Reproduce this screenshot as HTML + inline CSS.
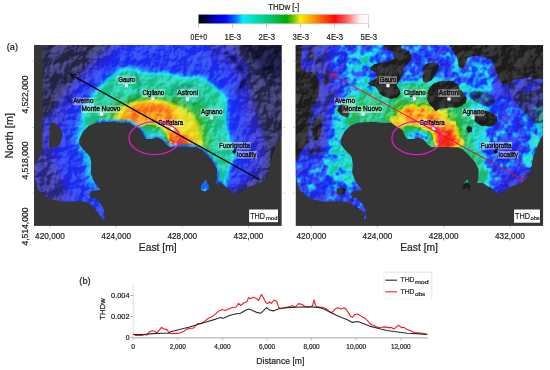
<!DOCTYPE html><html><head><meta charset="utf-8"><title>THDw maps</title>
<style>html,body{margin:0;padding:0;background:#fff}svg{display:block}text{font-family:"Liberation Sans", Arial, sans-serif;stroke:#222;stroke-width:.2px}</style></head><body>
<svg width="550" height="370" viewBox="0 0 550 370">
<defs>
<linearGradient id="cb" x1="0" x2="1" y1="0" y2="0"><stop offset="0" stop-color="#000"/><stop offset="0.05" stop-color="#000058"/><stop offset="0.10" stop-color="#0000c0"/><stop offset="0.16" stop-color="#0008ff"/><stop offset="0.215" stop-color="#0068ff"/><stop offset="0.262" stop-color="#00f0ff"/><stop offset="0.34" stop-color="#00dcb0"/><stop offset="0.45" stop-color="#00c050"/><stop offset="0.52" stop-color="#00a800"/><stop offset="0.56" stop-color="#70c800"/><stop offset="0.60" stop-color="#f8f000"/><stop offset="0.68" stop-color="#ff9000"/><stop offset="0.80" stop-color="#ff0808"/><stop offset="0.86" stop-color="#ff5050"/><stop offset="0.95" stop-color="#fff0f0"/><stop offset="1" stop-color="#fff"/></linearGradient>
<filter id="f1" x="0" y="0" width="320" height="260" filterUnits="userSpaceOnUse" color-interpolation-filters="sRGB"><feGaussianBlur stdDeviation="3.8" result="b"/><feComponentTransfer in="b"><feFuncR type="table" tableValues="0.078 0.132 0.184 0.233 0.239 0.232 0.215 0.198 0.174 0.139 0.125 0.129 0.149 0.159 0.164 0.168 0.173 0.187 0.202 0.217 0.251 0.290 0.412 0.659 0.861 0.954 0.975 0.996 0.995 0.990 0.984 0.978 0.973 0.979 0.986 0.993 1.000 1.000 1.000 1.000 1.000"/><feFuncG type="table" tableValues="0.078 0.132 0.184 0.233 0.239 0.234 0.229 0.223 0.268 0.390 0.627 0.873 0.843 0.826 0.817 0.809 0.800 0.795 0.790 0.785 0.774 0.761 0.775 0.831 0.887 0.846 0.739 0.633 0.536 0.441 0.346 0.252 0.157 0.275 0.392 0.510 0.627 0.721 0.814 0.907 1.000"/><feFuncB type="table" tableValues="0.220 0.298 0.369 0.427 0.612 0.796 0.855 0.914 0.960 0.989 0.988 0.941 0.784 0.701 0.666 0.631 0.596 0.547 0.498 0.449 0.376 0.298 0.233 0.188 0.166 0.150 0.139 0.128 0.120 0.114 0.107 0.101 0.094 0.227 0.361 0.494 0.627 0.721 0.814 0.907 1.000"/></feComponentTransfer></filter>
<filter id="f2" x="0" y="0" width="320" height="260" filterUnits="userSpaceOnUse" color-interpolation-filters="sRGB"><feGaussianBlur stdDeviation="3.2" result="b"/><feTurbulence type="fractalNoise" baseFrequency="0.13" numOctaves="2" seed="7" result="t"/><feColorMatrix in="t" type="matrix" values="1 0 0 0 0  1 0 0 0 0  1 0 0 0 0  0 0 0 0 1" result="tg"/><feComposite in="b" in2="tg" operator="arithmetic" k1="0" k2="1" k3="0.22" k4="-0.11" result="n"/><feComponentTransfer in="n"><feFuncR type="table" tableValues="0.078 0.132 0.184 0.233 0.239 0.232 0.215 0.198 0.174 0.139 0.125 0.129 0.149 0.159 0.164 0.168 0.173 0.187 0.202 0.217 0.251 0.290 0.412 0.659 0.861 0.954 0.975 0.996 0.995 0.990 0.984 0.978 0.973 0.979 0.986 0.993 1.000 1.000 1.000 1.000 1.000"/><feFuncG type="table" tableValues="0.078 0.132 0.184 0.233 0.239 0.234 0.229 0.223 0.268 0.390 0.627 0.873 0.843 0.826 0.817 0.809 0.800 0.795 0.790 0.785 0.774 0.761 0.775 0.831 0.887 0.846 0.739 0.633 0.536 0.441 0.346 0.252 0.157 0.275 0.392 0.510 0.627 0.721 0.814 0.907 1.000"/><feFuncB type="table" tableValues="0.220 0.298 0.369 0.427 0.612 0.796 0.855 0.914 0.960 0.989 0.988 0.941 0.784 0.701 0.666 0.631 0.596 0.547 0.498 0.449 0.376 0.298 0.233 0.188 0.166 0.150 0.139 0.128 0.120 0.114 0.107 0.101 0.094 0.227 0.361 0.494 0.627 0.721 0.814 0.907 1.000"/></feComponentTransfer></filter>
<filter id="hs" x="0" y="0" width="320" height="260" filterUnits="userSpaceOnUse" color-interpolation-filters="sRGB"><feTurbulence type="fractalNoise" baseFrequency="0.065" numOctaves="4" seed="3" result="t"/><feColorMatrix in="t" type="matrix" values="0 0 0 0 0  0 0 0 0 0  0 0 0 0 0  1 0 0 0 0" result="h"/><feDiffuseLighting in="h" surfaceScale="11" diffuseConstant="1" lighting-color="#fff" result="l"><feDistantLight azimuth="225" elevation="30"/></feDiffuseLighting></filter>
<filter id="b1" x="0" y="0" width="320" height="260" filterUnits="userSpaceOnUse"><feGaussianBlur stdDeviation="0.8"/></filter>
<linearGradient id="lf" x1="0" x2="1" y1="0" y2="0"><stop offset="0" stop-color="#363636"/><stop offset="0.48" stop-color="#363636"/><stop offset="0.68" stop-color="#363636" stop-opacity="0"/></linearGradient>
<clipPath id="land"><path d="M34.0,45.0L281.5,45.0L281.5,134.5L278.0,141.0L275.5,147.0L272.0,156.0L270.0,167.0L268.0,176.0L261.0,182.0L250.0,187.0L239.0,192.7L235.5,193.6L226.0,187.0L221.0,182.7L215.5,183.6L217.0,178.0L217.0,169.0L213.6,162.7L211.8,160.0L206.4,154.5L201.0,149.0L195.5,147.3L182.7,147.0L170.0,147.3L166.4,144.5L162.0,139.5L157.3,137.3L151.8,139.0L146.4,139.0L143.6,136.4L141.0,130.0L133.6,125.5L130.0,122.7L121.0,122.7L110.0,121.8L96.0,122.7L89.1,125.6L82.9,131.8L79.2,139.6L79.2,144.2L83.5,149.8L90.1,156.7L91.3,164.5L90.7,172.3L93.2,180.0L96.9,185.6L101.0,190.3L96.0,190.3L91.3,191.6L89.1,194.7L91.3,198.7L94.4,197.8L99.1,201.8L103.8,209.0L104.7,217.4L103.2,219.6L99.1,214.3L93.8,207.1L89.1,202.8L79.8,200.9L64.2,201.8L48.7,198.7L37.8,189.4L34.4,176.9L33.7,156.7L33.7,150.0Z"/><path d="M203.5,182.0L206.0,179.5L207.0,183.5L209.0,185.5L208.5,189.5L205.0,191.5L201.0,190.0L201.0,186.0Z"/></clipPath>
<clipPath id="frame1"><rect x="34.0" y="45.0" width="247.8" height="180.9"/></clipPath>
<marker id="ahk" viewBox="0 0 10 10" refX="9" refY="5" markerWidth="5" markerHeight="5" orient="auto-start-reverse"><path d="M1,1L9,5L1,9" fill="none" stroke="#0a0a0a" stroke-width="1.7"/></marker>
<marker id="ahr" viewBox="0 0 10 10" refX="9" refY="5" markerWidth="7" markerHeight="7" orient="auto-start-reverse"><path d="M1,1L9,5L1,9" fill="none" stroke="#e8102a" stroke-width="1.4"/></marker>
</defs>
<rect width="550" height="370" fill="#fff"/>
<text x="283.8" y="10.1" font-size="8.20" text-anchor="middle" font-weight="normal" fill="#222" textLength="31.0" lengthAdjust="spacingAndGlyphs">THDw [-]</text>
<rect x="198.3" y="14.4" width="170.2" height="9.3" fill="url(#cb)"/>
<rect x="198.3" y="14.4" width="170.2" height="9.3" fill="none" stroke="#bbb" stroke-width="0.5"/>
<path d="M198.5,23.7V28" stroke="#aaa" stroke-width="0.6"/>
<text x="198.8" y="39.6" font-size="8.50" text-anchor="middle" font-weight="normal" fill="#222" textLength="16.4" lengthAdjust="spacingAndGlyphs">0E+0</text>
<path d="M232.5,23.7V28" stroke="#aaa" stroke-width="0.6"/>
<text x="232.8" y="39.6" font-size="8.50" text-anchor="middle" font-weight="normal" fill="#222" textLength="16.4" lengthAdjust="spacingAndGlyphs">1E-3</text>
<path d="M266.5,23.7V28" stroke="#aaa" stroke-width="0.6"/>
<text x="266.8" y="39.6" font-size="8.50" text-anchor="middle" font-weight="normal" fill="#222" textLength="16.4" lengthAdjust="spacingAndGlyphs">2E-3</text>
<path d="M300.5,23.7V28" stroke="#aaa" stroke-width="0.6"/>
<text x="300.8" y="39.6" font-size="8.50" text-anchor="middle" font-weight="normal" fill="#222" textLength="16.4" lengthAdjust="spacingAndGlyphs">3E-3</text>
<path d="M334.5,23.7V28" stroke="#aaa" stroke-width="0.6"/>
<text x="334.8" y="39.6" font-size="8.50" text-anchor="middle" font-weight="normal" fill="#222" textLength="16.4" lengthAdjust="spacingAndGlyphs">4E-3</text>
<path d="M368.5,23.7V28" stroke="#aaa" stroke-width="0.6"/>
<text x="368.8" y="39.6" font-size="8.50" text-anchor="middle" font-weight="normal" fill="#222" textLength="16.4" lengthAdjust="spacingAndGlyphs">5E-3</text>
<g clip-path="url(#frame1)">
<rect x="34.0" y="45.0" width="247.8" height="180.9" fill="#353535"/>
<g clip-path="url(#land)"><g filter="url(#f1)"><rect x="0" y="0" width="320" height="260" fill="#121212"/><path d="M30.0,215.0C10.0,198.2 27.0,140.5 30.0,124.0C33.0,107.5 42.0,121.7 48.0,116.0C54.0,110.3 59.7,98.2 66.0,90.0C72.3,81.8 79.3,74.0 86.0,67.0C92.7,60.0 101.0,54.2 106.0,48.0C111.0,41.8 97.8,33.0 116.0,30.0C134.2,27.0 194.3,25.8 215.0,30.0C235.7,34.2 234.2,48.3 240.0,55.0C245.8,61.7 248.3,64.2 250.0,70.0C251.7,75.8 249.0,83.3 250.0,90.0C251.0,96.7 254.0,103.3 256.0,110.0C258.0,116.7 260.3,123.3 262.0,130.0C263.7,136.7 266.0,141.7 266.0,150.0C266.0,158.3 266.3,170.8 262.0,180.0C257.7,189.2 258.7,197.5 240.0,205.0C221.3,212.5 185.0,223.3 150.0,225.0C115.0,226.7 50.0,231.8 30.0,215.0Z" fill="#212121"/><path d="M58.0,215.0C42.3,206.7 55.7,184.2 56.0,170.0C56.3,155.8 57.7,141.7 60.0,130.0C62.3,118.3 65.8,108.3 70.0,100.0C74.2,91.7 80.0,85.8 85.0,80.0C90.0,74.2 95.0,69.7 100.0,65.0C105.0,60.3 111.3,57.8 115.0,52.0C118.7,46.2 108.5,33.7 122.0,30.0C135.5,26.3 181.0,25.7 196.0,30.0C211.0,34.3 206.3,49.7 212.0,56.0C217.7,62.3 225.3,63.2 230.0,68.0C234.7,72.8 237.8,79.7 240.0,85.0C242.2,90.3 242.0,94.2 243.0,100.0C244.0,105.8 244.8,113.3 246.0,120.0C247.2,126.7 249.0,133.3 250.0,140.0C251.0,146.7 252.7,152.5 252.0,160.0C251.3,167.5 250.5,177.5 246.0,185.0C241.5,192.5 241.0,199.2 225.0,205.0C209.0,210.8 177.8,218.3 150.0,220.0C122.2,221.7 73.7,223.3 58.0,215.0Z" fill="#333333"/><path d="M77.0,127.0C80.2,123.2 92.7,113.5 96.0,123.0C99.3,132.5 98.0,173.2 97.0,184.0C96.0,194.8 92.2,192.0 90.0,188.0C87.8,184.0 86.2,167.0 84.0,160.0C81.8,153.0 78.2,151.5 77.0,146.0C75.8,140.5 73.8,130.8 77.0,127.0Z" fill="#454545"/><path d="M104.0,140.0C95.7,131.3 93.3,131.2 90.0,128.0C86.7,124.8 85.0,123.8 84.0,121.0C83.0,118.2 82.7,114.8 84.0,111.0C85.3,107.2 88.8,102.3 92.0,98.0C95.2,93.7 98.8,89.2 103.0,85.0C107.2,80.8 112.5,75.7 117.0,73.0C121.5,70.3 125.2,68.8 130.0,69.0C134.8,69.2 140.2,73.2 146.0,74.0C151.8,74.8 158.8,73.3 165.0,74.0C171.2,74.7 177.2,77.3 183.0,78.0C188.8,78.7 194.7,76.3 200.0,78.0C205.3,79.7 210.7,84.3 215.0,88.0C219.3,91.7 224.3,95.0 226.0,100.0C227.7,105.0 224.7,112.0 225.0,118.0C225.3,124.0 226.5,130.0 228.0,136.0C229.5,142.0 234.0,148.8 234.0,154.0C234.0,159.2 230.0,161.8 228.0,167.0C226.0,172.2 226.7,180.3 222.0,185.0C217.3,189.7 213.7,195.8 200.0,195.0C186.3,194.2 156.0,189.2 140.0,180.0C124.0,170.8 112.3,148.7 104.0,140.0Z" fill="#5c5c5c"/><path d="M100.0,135.0C91.5,127.3 97.7,119.2 99.0,114.0C100.3,108.8 104.5,106.5 108.0,104.0C111.5,101.5 115.5,100.2 120.0,99.0C124.5,97.8 130.0,97.7 135.0,97.0C140.0,96.3 144.2,95.2 150.0,95.0C155.8,94.8 163.3,95.5 170.0,96.0C176.7,96.5 184.5,96.7 190.0,98.0C195.5,99.3 199.8,101.3 203.0,104.0C206.2,106.7 207.7,110.2 209.0,114.0C210.3,117.8 210.3,122.7 211.0,127.0C211.7,131.3 213.2,135.3 213.0,140.0C212.8,144.7 212.2,150.8 210.0,155.0C207.8,159.2 210.0,164.2 200.0,165.0C190.0,165.8 166.7,165.0 150.0,160.0C133.3,155.0 108.5,142.7 100.0,135.0Z" fill="#787878"/><path d="M112.0,126.0C108.0,121.2 113.0,115.2 116.0,111.0C119.0,106.8 124.3,103.2 130.0,101.0C135.7,98.8 143.7,98.2 150.0,98.0C156.3,97.8 162.3,98.7 168.0,100.0C173.7,101.3 179.5,103.7 184.0,106.0C188.5,108.3 192.0,110.7 195.0,114.0C198.0,117.3 200.5,121.7 202.0,126.0C203.5,130.3 203.8,135.7 204.0,140.0C204.2,144.3 208.7,149.3 203.0,152.0C197.3,154.7 180.5,158.0 170.0,156.0C159.5,154.0 149.7,145.0 140.0,140.0C130.3,135.0 116.0,130.8 112.0,126.0Z" fill="#9c9c9c"/><path d="M121.0,124.0C118.8,121.3 123.5,113.5 127.0,110.0C130.5,106.5 136.5,104.2 142.0,103.0C147.5,101.8 155.2,102.0 160.0,103.0C164.8,104.0 168.3,106.5 171.0,109.0C173.7,111.5 176.2,115.2 176.0,118.0C175.8,120.8 173.7,124.8 170.0,126.0C166.3,127.2 159.0,125.0 154.0,125.0C149.0,125.0 145.5,126.2 140.0,126.0C134.5,125.8 123.2,126.7 121.0,124.0Z" fill="#b1b1b1"/><path d="M164.0,134.0C165.2,132.2 169.0,131.0 172.0,131.0C175.0,131.0 179.0,132.5 182.0,134.0C185.0,135.5 188.0,137.8 190.0,140.0C192.0,142.2 194.0,145.2 194.0,147.0C194.0,148.8 194.3,150.3 190.0,151.0C185.7,151.7 172.2,152.5 168.0,151.0C163.8,149.5 165.7,144.8 165.0,142.0C164.3,139.2 162.8,135.8 164.0,134.0Z" fill="#bbbbbb"/><path d="M143.0,128.0C144.7,124.0 147.2,125.7 150.0,126.0C152.8,126.3 157.3,128.0 160.0,130.0C162.7,132.0 164.7,134.7 166.0,138.0C167.3,141.3 172.3,148.0 168.0,150.0C163.7,152.0 144.2,153.7 140.0,150.0C135.8,146.3 141.3,132.0 143.0,128.0Z" fill="#4c4c4c"/><path d="M290.0,125.0C286.5,115.0 281.7,135.5 279.0,140.0C276.3,144.5 275.3,147.3 274.0,152.0C272.7,156.7 272.0,163.3 271.0,168.0C270.0,172.7 270.2,176.7 268.0,180.0C265.8,183.3 262.7,185.0 258.0,188.0C253.3,191.0 239.7,194.3 240.0,198.0C240.3,201.7 250.0,209.7 260.0,210.0C270.0,210.3 295.0,214.2 300.0,200.0C305.0,185.8 293.5,135.0 290.0,125.0Z" fill="#000000"/><path d="M236.0,30.0C227.0,33.7 242.3,46.0 246.0,52.0C249.7,58.0 253.7,62.0 258.0,66.0C262.3,70.0 265.0,73.7 272.0,76.0C279.0,78.3 295.3,87.7 300.0,80.0C304.7,72.3 310.7,38.3 300.0,30.0C289.3,21.7 245.0,26.3 236.0,30.0Z" fill="#050505"/><path d="M196.0,176.0C199.0,172.7 211.0,172.7 214.0,176.0C217.0,179.3 217.0,192.7 214.0,196.0C211.0,199.3 199.0,199.3 196.0,196.0C193.0,192.7 193.0,179.3 196.0,176.0Z" fill="#3e3e3e"/><path d="M236.0,200.0C228.8,198.3 231.3,192.7 232.0,190.0C232.7,187.3 236.7,186.0 240.0,184.0C243.3,182.0 248.3,180.3 252.0,178.0C255.7,175.7 258.2,171.0 262.0,170.0C265.8,169.0 272.8,167.0 275.0,172.0C277.2,177.0 281.5,195.3 275.0,200.0C268.5,204.7 243.2,201.7 236.0,200.0Z" fill="#171717"/><path d="M30.0,150.0C33.3,141.3 44.7,153.8 50.0,158.0C55.3,162.2 59.3,168.0 62.0,175.0C64.7,182.0 71.3,194.2 66.0,200.0C60.7,205.8 36.0,218.3 30.0,210.0C24.0,201.7 26.7,158.7 30.0,150.0Z" fill="#1a1a1a"/></g>
<ellipse cx="171.3" cy="142" rx="2.6" ry="3" fill="#f41818" filter="url(#b1)"/><circle cx="170.9" cy="142.2" r="0.8" fill="#fff"/>
<g filter="url(#b1)" fill="none" stroke-linejoin="round"><path d="M226.0,187.0L221.0,182.7L215.5,183.6L217.0,178.0L217.0,169.0L213.6,162.7L211.8,160.0L206.4,154.5L201.0,149.0L195.5,147.3L182.7,147.0L170.0,147.3L166.4,144.5L162.0,139.5L157.3,137.3L151.8,139.0L146.4,139.0L143.6,136.4L141.0,130.0L133.6,125.5L130.0,122.7L121.0,122.7L110.0,121.8L96.0,122.7" stroke="#20d8f0" stroke-width="6" opacity="0.8"/><path d="M226.0,187.0L221.0,182.7L215.5,183.6L217.0,178.0L217.0,169.0L213.6,162.7L211.8,160.0L206.4,154.5L201.0,149.0L195.5,147.3L182.7,147.0L170.0,147.3L166.4,144.5L162.0,139.5L157.3,137.3L151.8,139.0L146.4,139.0L143.6,136.4L141.0,130.0L133.6,125.5L130.0,122.7L121.0,122.7L110.0,121.8L96.0,122.7" stroke="#2050ff" stroke-width="3" opacity="1"/></g>
<g filter="url(#b1)" fill="none" stroke-linecap="round" stroke-linejoin="round"><ellipse cx="185.5" cy="96" rx="14" ry="10" stroke="#063040" stroke-width="2" opacity=".22"/><path d="M120,73L136,72L140,85L138,99L127,102" stroke="#063040" stroke-width="2" opacity=".2"/><path d="M226.4,52.7L235.5,60L242.7,72.7" stroke="#060628" stroke-width="4.5" opacity=".45"/><path d="M237.3,92.7L244.5,80L251.8,73.6L262.7,71L270,67.3" stroke="#060628" stroke-width="5" opacity=".5"/><path d="M262,76L272,84M266,60L276,52M252,50L258,58" stroke="#060628" stroke-width="4" opacity=".35"/><path d="M64,78L58,90L62,98M66,96L72,104" stroke="#060628" stroke-width="2.5" opacity=".35"/></g>
<rect x="0" y="0" width="320" height="260" filter="url(#hs)" style="mix-blend-mode:overlay" opacity="0.38"/>
<path d="M33,44H50V138L36,164H33Z" fill="url(#lf)"/>
</g>
<path d="M51.0,122.8C51.9,122.3 53.8,122.6 55.3,123.4C56.8,124.2 58.6,126.3 59.7,127.8C60.8,129.3 61.7,130.3 62.0,132.3C62.3,134.3 62.0,137.6 61.5,139.7C61.0,141.8 60.4,143.6 59.0,144.9C57.6,146.2 54.6,147.0 53.0,147.6C51.4,148.2 50.0,149.9 49.4,148.6C48.8,147.3 49.2,142.4 49.2,139.7C49.2,137.0 49.5,134.5 49.6,132.3C49.7,130.1 49.8,128.0 50.0,126.4C50.2,124.8 50.1,123.3 51.0,122.8Z" fill="#353535"/>
</g>
<rect x="117.7" y="76.4" width="17.8" height="7.6" fill="#fff" fill-opacity="0.45"/><text x="118.2" y="82.2" font-size="6.70" fill="#111" style="stroke:#111;stroke-width:.38px" textLength="16.8" lengthAdjust="spacingAndGlyphs">Gauro</text><rect x="72.7" y="97.6" width="21.3" height="7.6" fill="#fff" fill-opacity="0.45"/><text x="73.2" y="103.4" font-size="6.70" fill="#111" style="stroke:#111;stroke-width:.38px" textLength="20.3" lengthAdjust="spacingAndGlyphs">Averno</text><rect x="81.1" y="105.4" width="39.9" height="7.6" fill="#fff" fill-opacity="0.45"/><text x="81.6" y="111.2" font-size="6.70" fill="#111" style="stroke:#111;stroke-width:.38px" textLength="38.9" lengthAdjust="spacingAndGlyphs">Monte Nuovo</text><rect x="141.9" y="89.4" width="22.8" height="7.6" fill="#fff" fill-opacity="0.45"/><text x="142.4" y="95.2" font-size="6.70" fill="#111" style="stroke:#111;stroke-width:.38px" textLength="21.8" lengthAdjust="spacingAndGlyphs">Cigliano</text><rect x="176.8" y="89.4" width="21.9" height="7.6" fill="#fff" fill-opacity="0.45"/><text x="177.3" y="95.2" font-size="6.70" fill="#111" style="stroke:#111;stroke-width:.38px" textLength="20.9" lengthAdjust="spacingAndGlyphs">Astroni</text><rect x="200.5" y="108.6" width="22.4" height="7.6" fill="#fff" fill-opacity="0.45"/><text x="201.0" y="114.4" font-size="6.70" fill="#111" style="stroke:#111;stroke-width:.38px" textLength="21.4" lengthAdjust="spacingAndGlyphs">Agnano</text><rect x="157.7" y="119.4" width="26.1" height="7.6" fill="#fff" fill-opacity="0.45"/><text x="158.2" y="125.2" font-size="6.70" fill="#111" style="stroke:#111;stroke-width:.38px" textLength="25.1" lengthAdjust="spacingAndGlyphs">Solfatara</text><rect x="218.5" y="142.0" width="32.0" height="7.6" fill="#fff" fill-opacity="0.45"/><text x="219.0" y="147.8" font-size="6.70" fill="#111" style="stroke:#111;stroke-width:.38px" textLength="31.0" lengthAdjust="spacingAndGlyphs">Fuorigrotta</text><rect x="236.5" y="151.0" width="20.4" height="7.6" fill="#fff" fill-opacity="0.45"/><text x="237.0" y="156.8" font-size="6.70" fill="#111" style="stroke:#111;stroke-width:.38px" textLength="19.4" lengthAdjust="spacingAndGlyphs">locality</text><rect x="124.9" y="84.1" width="3.2" height="3.2" fill="#fff"/><rect x="100.0" y="112.6" width="3.2" height="3.2" fill="#fff"/><rect x="151.5" y="97.2" width="3.2" height="3.2" fill="#fff"/><rect x="185.9" y="97.4" width="3.2" height="3.2" fill="#fff"/><rect x="209.9" y="116.2" width="3.2" height="3.2" fill="#fff"/><rect x="170.7" y="126.8" width="3.2" height="3.2" fill="#fff"/><path d="M234.2,149.6l2.2,2.2l-2.2,2.2l-2.2,-2.2z" fill="#000"/>
<ellipse cx="154.5" cy="138.2" rx="25.5" ry="16.4" fill="none" stroke="#e818c8" stroke-width="1.2"/>
<path d="M260,180L70.5,74.3" stroke="#0a0a0a" stroke-width="1.4" fill="none" marker-end="url(#ahk)"/>
<rect x="249.1" y="209.5" width="28.9" height="12.7" fill="#fff"/>
<text x="250.2" y="219.3" font-size="9.8" fill="#222" textLength="14.8" lengthAdjust="spacingAndGlyphs">THD</text>
<text x="265.9" y="220.4" font-size="6" fill="#222" textLength="11.6" lengthAdjust="spacingAndGlyphs">mod</text>
<g transform="translate(261.5,0)">
<g clip-path="url(#frame1)">
<rect x="34.0" y="45.0" width="247.8" height="180.9" fill="#353535"/>
<g clip-path="url(#land)"><g filter="url(#f2)"><rect x="0" y="0" width="320" height="260" fill="#1d1d1d"/><path d="M78.0,30.0C53.5,41.7 79.3,86.3 78.0,100.0C76.7,113.7 71.8,103.7 70.0,112.0C68.2,120.3 70.3,142.3 67.0,150.0C63.7,157.7 56.2,155.5 50.0,158.0C43.8,160.5 33.3,153.0 30.0,165.0C26.7,177.0 -15.0,219.2 30.0,230.0C75.0,240.8 255.0,250.3 300.0,230.0C345.0,209.7 306.3,129.0 300.0,108.0C293.7,87.0 272.0,106.7 262.0,104.0C252.0,101.3 245.0,97.7 240.0,92.0C235.0,86.3 234.5,80.3 232.0,70.0C229.5,59.7 250.7,36.7 225.0,30.0C199.3,23.3 102.5,18.3 78.0,30.0Z" fill="#343434"/><path d="M288.0,108.0C286.0,100.7 280.7,104.3 278.0,106.0C275.3,107.7 273.3,113.2 272.0,118.0C270.7,122.8 271.3,129.7 270.0,135.0C268.7,140.3 265.3,145.0 264.0,150.0C262.7,155.0 261.0,161.7 262.0,165.0C263.0,168.3 265.3,172.5 270.0,170.0C274.7,167.5 287.0,160.3 290.0,150.0C293.0,139.7 290.0,115.3 288.0,108.0Z" fill="#454545"/><path d="M190.0,52.0C193.2,51.3 199.7,54.3 205.0,56.0C210.3,57.7 217.5,59.3 222.0,62.0C226.5,64.7 229.7,67.7 232.0,72.0C234.3,76.3 236.7,83.3 236.0,88.0C235.3,92.7 232.0,99.3 228.0,100.0C224.0,100.7 217.0,94.7 212.0,92.0C207.0,89.3 202.0,87.0 198.0,84.0C194.0,81.0 190.0,78.0 188.0,74.0C186.0,70.0 185.7,63.7 186.0,60.0C186.3,56.3 186.8,52.7 190.0,52.0Z" fill="#3c3c3c"/><path d="M92.0,44.0C94.5,42.7 100.7,46.0 105.0,46.0C109.3,46.0 115.2,43.0 118.0,44.0C120.8,45.0 122.0,49.0 122.0,52.0C122.0,55.0 120.3,59.3 118.0,62.0C115.7,64.7 111.7,67.7 108.0,68.0C104.3,68.3 99.0,66.3 96.0,64.0C93.0,61.7 90.7,57.3 90.0,54.0C89.3,50.7 89.5,45.3 92.0,44.0Z" fill="#3d3d3d"/><path d="M84.0,76.0C84.7,73.3 89.0,69.3 92.0,66.0C95.0,62.7 98.7,58.7 102.0,56.0C105.3,53.3 109.7,50.3 112.0,50.0C114.3,49.7 117.0,51.7 116.0,54.0C115.0,56.3 109.3,60.7 106.0,64.0C102.7,67.3 99.0,71.0 96.0,74.0C93.0,77.0 90.0,81.7 88.0,82.0C86.0,82.3 83.3,78.7 84.0,76.0Z" fill="#4c4c4c"/><path d="M69.0,178.0C57.2,168.5 68.8,139.7 69.0,128.0C69.2,116.3 68.5,113.0 70.0,108.0C71.5,103.0 75.0,101.0 78.0,98.0C81.0,95.0 84.7,93.0 88.0,90.0C91.3,87.0 94.7,82.3 98.0,80.0C101.3,77.7 104.7,76.3 108.0,76.0C111.3,75.7 114.7,76.3 118.0,78.0C121.3,79.7 124.3,85.8 128.0,86.0C131.7,86.2 133.8,80.3 140.0,79.0C146.2,77.7 157.5,77.5 165.0,78.0C172.5,78.5 179.2,80.8 185.0,82.0C190.8,83.2 195.0,82.8 200.0,85.0C205.0,87.2 210.8,91.2 215.0,95.0C219.2,98.8 222.8,103.0 225.0,108.0C227.2,113.0 227.8,118.8 228.0,125.0C228.2,131.2 227.0,139.2 226.0,145.0C225.0,150.8 223.0,152.8 222.0,160.0C221.0,167.2 223.7,182.0 220.0,188.0C216.3,194.0 213.3,196.5 200.0,196.0C186.7,195.5 161.8,188.0 140.0,185.0C118.2,182.0 80.8,187.5 69.0,178.0Z" fill="#494949"/><path d="M100.0,135.0C89.2,129.0 87.5,128.5 85.0,124.0C82.5,119.5 84.5,111.8 85.0,108.0C85.5,104.2 86.2,102.8 88.0,101.0C89.8,99.2 92.7,98.0 96.0,97.0C99.3,96.0 104.0,95.0 108.0,95.0C112.0,95.0 115.5,97.5 120.0,97.0C124.5,96.5 131.3,93.8 135.0,92.0C138.7,90.2 137.0,87.3 142.0,86.0C147.0,84.7 159.0,83.0 165.0,84.0C171.0,85.0 173.5,90.2 178.0,92.0C182.5,93.8 187.8,93.5 192.0,95.0C196.2,96.5 200.2,98.2 203.0,101.0C205.8,103.8 207.7,107.5 209.0,112.0C210.3,116.5 210.8,123.0 211.0,128.0C211.2,133.0 210.8,137.3 210.0,142.0C209.2,146.7 207.7,152.2 206.0,156.0C204.3,159.8 209.3,164.3 200.0,165.0C190.7,165.7 166.7,165.0 150.0,160.0C133.3,155.0 110.8,141.0 100.0,135.0Z" fill="#707070"/><path d="M126.0,126.0C124.5,121.7 129.2,117.3 131.0,114.0C132.8,110.7 133.8,107.8 137.0,106.0C140.2,104.2 145.0,103.3 150.0,103.0C155.0,102.7 161.3,103.0 167.0,104.0C172.7,105.0 179.5,106.7 184.0,109.0C188.5,111.3 191.5,114.5 194.0,118.0C196.5,121.5 197.8,124.7 199.0,130.0C200.2,135.3 205.8,145.8 201.0,150.0C196.2,154.2 180.2,156.7 170.0,155.0C159.8,153.3 147.3,144.8 140.0,140.0C132.7,135.2 127.5,130.3 126.0,126.0Z" fill="#9c9c9c"/><path d="M136.0,125.0C135.3,122.7 138.2,116.8 140.0,114.0C141.8,111.2 143.3,109.2 147.0,108.0C150.7,106.8 157.3,106.3 162.0,107.0C166.7,107.7 171.0,109.8 175.0,112.0C179.0,114.2 182.8,117.0 186.0,120.0C189.2,123.0 192.2,126.5 194.0,130.0C195.8,133.5 196.8,137.7 197.0,141.0C197.2,144.3 198.7,148.5 195.0,150.0C191.3,151.5 180.8,153.0 175.0,150.0C169.2,147.0 165.2,135.7 160.0,132.0C154.8,128.3 148.0,129.2 144.0,128.0C140.0,126.8 136.7,127.3 136.0,125.0Z" fill="#adadad"/><path d="M172.0,130.0C172.5,127.5 175.0,125.5 177.0,125.0C179.0,124.5 181.8,125.7 184.0,127.0C186.2,128.3 188.3,130.7 190.0,133.0C191.7,135.3 193.7,138.5 194.0,141.0C194.3,143.5 194.0,146.8 192.0,148.0C190.0,149.2 185.0,149.3 182.0,148.0C179.0,146.7 175.7,143.0 174.0,140.0C172.3,137.0 171.5,132.5 172.0,130.0Z" fill="#c9c9c9"/><path d="M143.0,128.0C144.7,124.0 147.2,125.7 150.0,126.0C152.8,126.3 157.2,128.2 160.0,130.0C162.8,131.8 165.3,133.7 167.0,137.0C168.7,140.3 174.5,147.8 170.0,150.0C165.5,152.2 144.5,153.7 140.0,150.0C135.5,146.3 141.3,132.0 143.0,128.0Z" fill="#575757"/><path d="M203.0,148.0C203.8,146.3 210.5,147.2 214.0,150.0C217.5,152.8 221.8,160.0 224.0,165.0C226.2,170.0 227.3,175.7 227.0,180.0C226.7,184.3 224.5,190.0 222.0,191.0C219.5,192.0 213.2,189.2 212.0,186.0C210.8,182.8 215.5,176.3 215.0,172.0C214.5,167.7 211.0,164.0 209.0,160.0C207.0,156.0 202.2,149.7 203.0,148.0Z" fill="#666666"/><path d="M236.0,200.0C228.8,198.3 231.3,192.7 232.0,190.0C232.7,187.3 236.7,186.0 240.0,184.0C243.3,182.0 248.3,180.3 252.0,178.0C255.7,175.7 258.2,171.0 262.0,170.0C265.8,169.0 272.8,167.0 275.0,172.0C277.2,177.0 281.5,195.3 275.0,200.0C268.5,204.7 243.2,201.7 236.0,200.0Z" fill="#202020"/><path d="M148.0,134.0C149.5,132.9 154.3,132.4 158.0,132.5C161.7,132.6 167.7,133.6 170.0,134.5C172.3,135.4 173.7,137.1 172.0,138.0C170.3,138.9 163.8,139.8 160.0,140.0C156.2,140.2 151.0,140.0 149.0,139.0C147.0,138.0 146.5,135.1 148.0,134.0Z" fill="#2e2e2e"/></g>
<path d="M186.5,44.0L192.1,51.0L195.5,58.0L197.5,67.0L201.5,69.0L204.5,64.0L206.7,57.3L215.8,55.5L223.0,57.3L230.3,60.0L232.1,63.6L234.0,71.0L237.5,79.0L241.2,84.5L248.5,81.8L255.8,79.0L261.2,79.0L268.5,76.4L274.0,79.0L282.5,79.0L282.5,44.0Z" fill="#2c2c2c"/>
<path d="M122.0,43.2L139.1,43.2L139.9,48.1L147.2,51.4L150.4,56.2L148.8,61.1L145.6,64.3L142.3,66.8L141.5,72.5L139.9,78.1L136.6,82.2L135.0,85.4L137.4,88.7L139.1,93.5L135.8,97.6L129.3,98.7L122.8,96.8L118.0,93.5L115.5,88.7L113.1,86.2L108.2,85.4L106.6,83.0L111.5,80.6L115.5,77.3L114.7,72.5L109.9,70.8L108.2,67.6L113.1,64.3L119.6,62.7L126.1,61.9L131.0,59.5L133.4,55.4L131.0,51.4L126.1,48.9L122.8,46.5Z" fill="#2c2c2c"/>
<path d="M163.9,64.3L168.0,62.7L172.8,61.9L176.1,64.3L177.7,68.4L174.5,72.5L172.8,76.5L169.6,80.6L164.7,83.0L161.5,81.4L160.7,77.3L162.3,72.5L161.5,68.4Z" fill="#2c2c2c"/>
<path d="M168.0,87.2L172.8,83.1L181.0,80.7L190.7,80.7L196.4,83.9L198.0,88.8L202.0,92.8L205.3,97.7L204.5,102.6L200.4,105.8L195.5,107.5L189.1,107.5L184.2,108.3L177.7,109.1L174.5,111.5L171.2,107.5L168.0,104.2L165.5,99.3L166.3,92.8Z" fill="#2c2c2c"/>
<path d="M212.5,112.0L220.5,110.0L228.5,112.0L235.5,116.0L235.5,122.0L229.5,126.5L220.5,126.0L213.5,122.0Z" fill="#2c2c2c"/>
<path d="M205.0,128.0L207.5,126.0L211.0,128.0L210.5,132.0L206.5,133.0Z" fill="#2c2c2c"/>
<path d="M76.5,105.5L80.5,104.0L85.5,105.0L88.5,108.0L88.0,113.0L86.5,117.5L82.5,116.5L78.5,114.5L76.0,110.0Z" fill="#2c2c2c"/>
<path d="M28.5,40.0L40.0,40.0L40.0,68.0L44.5,72.5L50.5,72.0L55.5,77.0L58.0,88.0L56.5,98.0L51.5,104.0L48.0,112.0L47.5,128.0L46.5,142.0L42.5,148.0L38.0,153.0L35.5,160.0L28.5,160.0Z" fill="#2c2c2c"/>
<path d="M52.5,118.0L57.5,118.5L60.5,124.0L59.5,133.0L57.0,140.0L52.5,140.5L51.0,133.0L51.0,124.0Z" fill="#2c2c2c"/>
<path d="M75.0,189.0L79.5,187.5L84.5,189.0L83.5,193.5L78.5,195.0L75.0,193.0Z" fill="#2c2c2c"/>
<path d="M90.5,205.0L96.5,208.0L103.0,212.0L102.5,220.0L96.5,216.0L90.5,210.0Z" fill="#2c2c2c"/>
<path d="M199.5,186.0L204.5,182.5L210.5,183.0L216.5,183.0L222.5,184.0L227.5,187.0L232.5,191.0L235.5,194.0L228.5,193.0L222.5,189.5L214.5,188.0L208.5,190.0L204.5,193.0L200.0,191.0Z" fill="#2c2c2c"/>
<path d="M252.5,96.0C253.8,93.3 261.5,93.0 266.5,92.0C271.5,91.0 279.8,85.5 282.5,90.0C285.2,94.5 283.8,113.5 282.5,119.0C281.2,124.5 277.2,123.5 274.5,123.0C271.8,122.5 269.2,118.5 266.5,116.0C263.8,113.5 260.8,111.3 258.5,108.0C256.2,104.7 251.2,98.7 252.5,96.0Z" fill="#343440" opacity="0.6"/>
<path d="M208.5,93.0C209.5,91.7 213.5,90.8 216.5,91.0C219.5,91.2 223.7,92.8 226.5,94.0C229.3,95.2 232.7,96.3 233.5,98.0C234.3,99.7 233.0,102.7 231.5,104.0C230.0,105.3 227.0,106.2 224.5,106.0C222.0,105.8 218.8,104.2 216.5,103.0C214.2,101.8 211.8,100.7 210.5,99.0C209.2,97.3 207.5,94.3 208.5,93.0Z" fill="#20202c" opacity="0.55"/>
<rect x="0" y="0" width="320" height="260" filter="url(#hs)" style="mix-blend-mode:overlay" opacity="0.38"/>
</g>
</g>
<rect x="117.7" y="76.4" width="17.8" height="7.6" fill="#fff" fill-opacity="0.45"/><text x="118.2" y="82.2" font-size="6.70" fill="#111" style="stroke:#111;stroke-width:.38px" textLength="16.8" lengthAdjust="spacingAndGlyphs">Gauro</text><rect x="72.7" y="97.6" width="21.3" height="7.6" fill="#fff" fill-opacity="0.45"/><text x="73.2" y="103.4" font-size="6.70" fill="#111" style="stroke:#111;stroke-width:.38px" textLength="20.3" lengthAdjust="spacingAndGlyphs">Averno</text><rect x="81.1" y="105.4" width="39.9" height="7.6" fill="#fff" fill-opacity="0.45"/><text x="81.6" y="111.2" font-size="6.70" fill="#111" style="stroke:#111;stroke-width:.38px" textLength="38.9" lengthAdjust="spacingAndGlyphs">Monte Nuovo</text><rect x="141.9" y="89.4" width="22.8" height="7.6" fill="#fff" fill-opacity="0.45"/><text x="142.4" y="95.2" font-size="6.70" fill="#111" style="stroke:#111;stroke-width:.38px" textLength="21.8" lengthAdjust="spacingAndGlyphs">Cigliano</text><rect x="176.8" y="89.4" width="21.9" height="7.6" fill="#fff" fill-opacity="0.45"/><text x="177.3" y="95.2" font-size="6.70" fill="#111" style="stroke:#111;stroke-width:.38px" textLength="20.9" lengthAdjust="spacingAndGlyphs">Astroni</text><rect x="200.5" y="108.6" width="22.4" height="7.6" fill="#fff" fill-opacity="0.45"/><text x="201.0" y="114.4" font-size="6.70" fill="#111" style="stroke:#111;stroke-width:.38px" textLength="21.4" lengthAdjust="spacingAndGlyphs">Agnano</text><rect x="157.7" y="119.4" width="26.1" height="7.6" fill="#fff" fill-opacity="0.45"/><text x="158.2" y="125.2" font-size="6.70" fill="#111" style="stroke:#111;stroke-width:.38px" textLength="25.1" lengthAdjust="spacingAndGlyphs">Solfatara</text><rect x="218.5" y="142.0" width="32.0" height="7.6" fill="#fff" fill-opacity="0.45"/><text x="219.0" y="147.8" font-size="6.70" fill="#111" style="stroke:#111;stroke-width:.38px" textLength="31.0" lengthAdjust="spacingAndGlyphs">Fuorigrotta</text><rect x="236.5" y="151.0" width="20.4" height="7.6" fill="#fff" fill-opacity="0.45"/><text x="237.0" y="156.8" font-size="6.70" fill="#111" style="stroke:#111;stroke-width:.38px" textLength="19.4" lengthAdjust="spacingAndGlyphs">locality</text><rect x="124.9" y="84.1" width="3.2" height="3.2" fill="#fff"/><rect x="100.0" y="112.6" width="3.2" height="3.2" fill="#fff"/><rect x="151.5" y="97.2" width="3.2" height="3.2" fill="#fff"/><rect x="185.9" y="97.4" width="3.2" height="3.2" fill="#fff"/><rect x="209.9" y="116.2" width="3.2" height="3.2" fill="#fff"/><rect x="170.7" y="126.8" width="3.2" height="3.2" fill="#fff"/><path d="M234.2,149.6l2.2,2.2l-2.2,2.2l-2.2,-2.2z" fill="#000"/>
<ellipse cx="154.9" cy="138.2" rx="24.5" ry="16.5" fill="none" stroke="#e818c8" stroke-width="1.2"/>
<path d="M262,180L69,73.8" stroke="#e8102a" stroke-width="1.0" fill="none" marker-end="url(#ahr)"/>
<path d="M260.9,182L263.1,178" stroke="#e8102a" stroke-width="0.9" fill="none"/>
<rect x="252.6" y="209.5" width="25.9" height="13.2" fill="#fff"/>
<text x="253.5" y="219.2" font-size="9.8" fill="#222" textLength="15" lengthAdjust="spacingAndGlyphs">THD</text>
<text x="268.9" y="220.3" font-size="6" fill="#222" textLength="9.4" lengthAdjust="spacingAndGlyphs">obs</text>
</g>
<text x="12.4" y="49.5" font-size="9.00" text-anchor="middle" font-weight="normal" fill="#222" textLength="11.2" lengthAdjust="spacingAndGlyphs">(a)</text>
<path d="M50.0,226V228" stroke="#aaa" stroke-width="0.6"/>
<text x="50.0" y="239.3" font-size="8.70" text-anchor="middle" font-weight="normal" fill="#222" textLength="29.8" lengthAdjust="spacingAndGlyphs">420,000</text>
<path d="M116.2,226V228" stroke="#aaa" stroke-width="0.6"/>
<text x="116.2" y="239.3" font-size="8.70" text-anchor="middle" font-weight="normal" fill="#222" textLength="29.8" lengthAdjust="spacingAndGlyphs">424,000</text>
<path d="M182.3,226V228" stroke="#aaa" stroke-width="0.6"/>
<text x="182.3" y="239.3" font-size="8.70" text-anchor="middle" font-weight="normal" fill="#222" textLength="29.8" lengthAdjust="spacingAndGlyphs">428,000</text>
<path d="M248.5,226V228" stroke="#aaa" stroke-width="0.6"/>
<text x="248.5" y="239.3" font-size="8.70" text-anchor="middle" font-weight="normal" fill="#222" textLength="29.8" lengthAdjust="spacingAndGlyphs">432,000</text>
<text x="157.7" y="251.4" font-size="10.00" text-anchor="middle" font-weight="normal" fill="#222" textLength="37.8" lengthAdjust="spacingAndGlyphs">East [m]</text>
<path d="M311.4,226V228" stroke="#aaa" stroke-width="0.6"/>
<text x="311.4" y="239.3" font-size="8.70" text-anchor="middle" font-weight="normal" fill="#222" textLength="29.8" lengthAdjust="spacingAndGlyphs">420,000</text>
<path d="M377.5,226V228" stroke="#aaa" stroke-width="0.6"/>
<text x="377.5" y="239.3" font-size="8.70" text-anchor="middle" font-weight="normal" fill="#222" textLength="29.8" lengthAdjust="spacingAndGlyphs">424,000</text>
<path d="M443.7,226V228" stroke="#aaa" stroke-width="0.6"/>
<text x="443.7" y="239.3" font-size="8.70" text-anchor="middle" font-weight="normal" fill="#222" textLength="29.8" lengthAdjust="spacingAndGlyphs">428,000</text>
<path d="M509.9,226V228" stroke="#aaa" stroke-width="0.6"/>
<text x="509.9" y="239.3" font-size="8.70" text-anchor="middle" font-weight="normal" fill="#222" textLength="29.8" lengthAdjust="spacingAndGlyphs">432,000</text>
<text x="419.1" y="251.4" font-size="10.00" text-anchor="middle" font-weight="normal" fill="#222" textLength="37.8" lengthAdjust="spacingAndGlyphs">East [m]</text>
<text transform="translate(28.3,94.6) rotate(-90)" font-size="8.2" text-anchor="middle" fill="#222" textLength="38" lengthAdjust="spacingAndGlyphs">4,522,000</text>
<text transform="translate(28.3,160.6) rotate(-90)" font-size="8.2" text-anchor="middle" fill="#222" textLength="38" lengthAdjust="spacingAndGlyphs">4,518,000</text>
<text transform="translate(28.3,226.6) rotate(-90)" font-size="8.2" text-anchor="middle" fill="#222" textLength="38" lengthAdjust="spacingAndGlyphs">4,514,000</text>
<path d="M31.5,61.2H34" stroke="#bbb" stroke-width="0.6"/>
<path d="M283,61.2H285.5M293,61.2H295.5" stroke="#bbb" stroke-width="0.6"/>
<path d="M31.5,127.5H34" stroke="#bbb" stroke-width="0.6"/>
<path d="M283,127.5H285.5M293,127.5H295.5" stroke="#bbb" stroke-width="0.6"/>
<path d="M31.5,193.3H34" stroke="#bbb" stroke-width="0.6"/>
<path d="M283,193.3H285.5M293,193.3H295.5" stroke="#bbb" stroke-width="0.6"/>
<text transform="translate(12.9,135.7) rotate(-90)" font-size="10.2" text-anchor="middle" fill="#222" textLength="45.4" lengthAdjust="spacingAndGlyphs">North [m]</text>
<text x="85.0" y="284.2" font-size="9.00" text-anchor="middle" font-weight="normal" fill="#222" textLength="11.4" lengthAdjust="spacingAndGlyphs">(b)</text>
<path d="M133.2,284.7V337.6" stroke="#d2d2d2" stroke-width="0.7" fill="none"/>
<path d="M133,337.8H428" stroke="#b6b6b6" stroke-width="1.3" fill="none"/>
<path d="M130.6,337.3H133.2" stroke="#8a8a8a" stroke-width="0.7"/>
<text x="129.6" y="339.7" font-size="6.80" text-anchor="end" font-weight="normal" fill="#222">0</text>
<path d="M130.6,316.4H133.2" stroke="#8a8a8a" stroke-width="0.7"/>
<text x="129.6" y="318.8" font-size="6.80" text-anchor="end" font-weight="normal" fill="#222" textLength="18.5" lengthAdjust="spacingAndGlyphs">0.002</text>
<path d="M130.6,295.5H133.2" stroke="#8a8a8a" stroke-width="0.7"/>
<text x="129.6" y="297.9" font-size="6.80" text-anchor="end" font-weight="normal" fill="#222" textLength="18.5" lengthAdjust="spacingAndGlyphs">0.004</text>
<path d="M133.2,338.4V340.4" stroke="#9a9a9a" stroke-width="0.7"/>
<text x="133.2" y="349.4" font-size="6.80" text-anchor="middle" font-weight="normal" fill="#222">0</text>
<path d="M177.8,338.4V340.4" stroke="#9a9a9a" stroke-width="0.7"/>
<text x="177.8" y="349.4" font-size="6.80" text-anchor="middle" font-weight="normal" fill="#222" textLength="16.2" lengthAdjust="spacingAndGlyphs">2,000</text>
<path d="M222.4,338.4V340.4" stroke="#9a9a9a" stroke-width="0.7"/>
<text x="222.4" y="349.4" font-size="6.80" text-anchor="middle" font-weight="normal" fill="#222" textLength="16.2" lengthAdjust="spacingAndGlyphs">4,000</text>
<path d="M267.0,338.4V340.4" stroke="#9a9a9a" stroke-width="0.7"/>
<text x="267.0" y="349.4" font-size="6.80" text-anchor="middle" font-weight="normal" fill="#222" textLength="16.2" lengthAdjust="spacingAndGlyphs">6,000</text>
<path d="M311.6,338.4V340.4" stroke="#9a9a9a" stroke-width="0.7"/>
<text x="311.6" y="349.4" font-size="6.80" text-anchor="middle" font-weight="normal" fill="#222" textLength="16.2" lengthAdjust="spacingAndGlyphs">8,000</text>
<path d="M356.2,338.4V340.4" stroke="#9a9a9a" stroke-width="0.7"/>
<text x="356.2" y="349.4" font-size="6.80" text-anchor="middle" font-weight="normal" fill="#222" textLength="19.8" lengthAdjust="spacingAndGlyphs">10,000</text>
<path d="M400.8,338.4V340.4" stroke="#9a9a9a" stroke-width="0.7"/>
<text x="400.8" y="349.4" font-size="6.80" text-anchor="middle" font-weight="normal" fill="#222" textLength="19.8" lengthAdjust="spacingAndGlyphs">12,000</text>
<text x="280.4" y="364.2" font-size="9.00" text-anchor="middle" font-weight="normal" fill="#222" textLength="48.2" lengthAdjust="spacingAndGlyphs">Distance [m]</text>
<text transform="translate(104.6,309) rotate(-90)" font-size="8" text-anchor="middle" fill="#222" textLength="21.5" lengthAdjust="spacingAndGlyphs">THDw</text>
<polyline points="133.2,334.0 135.9,335.5 141.4,335.5 145.9,334.5 146.8,335.1 149.5,331.8 152.3,330.7 155.0,331.5 156.8,333.1 158.6,330.9 161.4,327.3 163.2,328.7 165.0,329.1 166.8,329.6 169.5,333.3 172.3,333.6 179.5,333.1 183.2,331.8 186.8,329.1 190.5,328.2 193.2,328.2 197.7,323.6 201.4,323.3 205.0,320.9 208.6,318.2 212.3,316.4 215.9,313.6 218.6,310.9 222.3,309.6 225.0,310.5 228.6,309.1 233.2,307.3 235.9,307.3 238.6,303.3 240.5,305.5 244.1,302.7 246.8,301.8 248.6,297.6 250.5,298.7 253.2,297.3 255.9,298.2 258.6,300.5 261.4,294.5 263.2,297.3 265.9,302.7 267.7,303.6 269.5,301.8 271.4,303.3 274.1,300.0 276.8,301.5 278.6,307.3 280.5,308.7 283.2,308.2 285.9,307.3 289.5,306.9 292.3,305.5 295.0,307.3 298.6,303.6 302.3,304.5 305.9,307.3 311.4,306.7 312.6,305.5 314.1,300.0 315.5,305.5 316.8,306.9 323.2,307.6 326.8,309.1 329.5,311.8 332.3,312.4 335.0,309.1 337.7,307.8 341.4,309.1 344.1,307.8 346.8,310.0 350.5,316.4 352.3,317.3 355.0,314.5 357.7,314.0 361.4,316.4 365.0,318.2 367.7,320.9 370.5,324.2 374.1,325.5 377.7,327.6 381.4,327.3 385.0,326.9 388.6,327.6 391.4,327.6 394.1,329.1 395.9,327.3 398.6,325.1 401.4,327.6 403.6,327.3 407.3,329.6 410.9,330.9 414.5,332.7 418.2,332.7 423.6,333.6 427.3,334.2" fill="none" stroke="#f81820" stroke-width="1.1" stroke-linejoin="round"/>
<polyline points="133.2,334.5 143.2,334.5 152.3,333.6 161.4,333.3 168.6,333.3 170.5,331.8 179.5,329.5 188.6,327.3 197.7,324.5 206.8,321.8 215.9,319.1 220.5,317.6 223.2,318.2 229.5,315.5 235.0,314.0 240.5,313.3 245.9,310.0 248.6,309.1 251.4,310.0 256.8,312.4 260.5,313.3 263.2,310.9 266.5,307.6 269.5,310.0 273.2,310.9 276.8,309.6 280.5,308.2 287.7,307.6 296.8,307.3 305.9,306.9 312.3,306.9 319.5,307.6 325.0,309.5 330.5,312.4 335.9,315.1 341.4,317.6 346.8,319.6 352.3,322.4 357.7,321.5 363.2,323.6 370.5,326.4 377.7,328.2 386.8,330.5 395.9,331.8 407.3,333.3 416.4,333.6 427.3,334.5" fill="none" stroke="#2a2a2a" stroke-width="1.1" stroke-linejoin="round"/>
<path d="M383.8,272.2H431.8V299" stroke="#cfcfcf" stroke-width="0.6" fill="none"/>
<path d="M383.8,272.2V299H431.8" stroke="#efefef" stroke-width="0.6" fill="none"/>
<path d="M385.3,280.2H397.1" stroke="#3a3a3a" stroke-width="1.2"/>
<path d="M385.3,291.8H397.1" stroke="#f81820" stroke-width="1.1"/>
<text x="400.5" y="282.4" font-size="8.1" fill="#222" textLength="14" lengthAdjust="spacingAndGlyphs">THD</text>
<text x="414.9" y="283.9" font-size="5.8" fill="#222" textLength="13.8" lengthAdjust="spacingAndGlyphs">mod</text>
<text x="400.5" y="294.3" font-size="8.1" fill="#222" textLength="14" lengthAdjust="spacingAndGlyphs">THD</text>
<text x="414.9" y="295.8" font-size="5.8" fill="#222" textLength="10.4" lengthAdjust="spacingAndGlyphs">obs</text>
</svg></body></html>
